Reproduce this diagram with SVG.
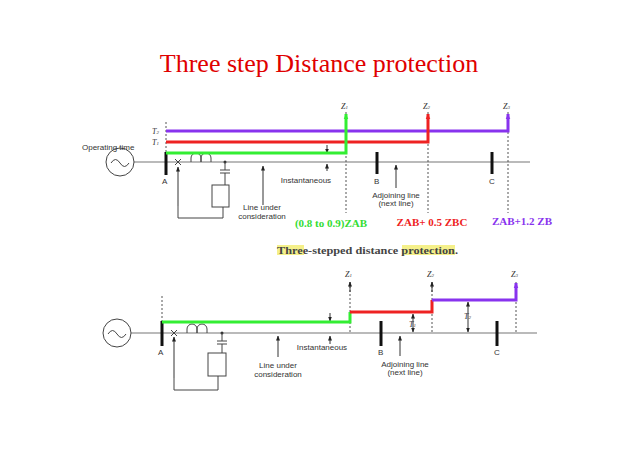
<svg xmlns="http://www.w3.org/2000/svg" width="638" height="451" viewBox="0 0 638 451">
<defs>
<marker id="ah" viewBox="0 0 10 10" refX="9" refY="5" markerWidth="5" markerHeight="5" orient="auto-start-reverse"><path d="M0,1 L10,5 L0,9 z" fill="#222"/></marker>
<marker id="ahg" viewBox="0 0 10 10" refX="9" refY="5" markerUnits="userSpaceOnUse" markerWidth="6" markerHeight="6" orient="auto"><path d="M0,1 L10,5 L0,9 z" fill="#33ee33"/></marker>
<marker id="ahr" viewBox="0 0 10 10" refX="9" refY="5" markerUnits="userSpaceOnUse" markerWidth="6" markerHeight="6" orient="auto"><path d="M0,1 L10,5 L0,9 z" fill="#ee2222"/></marker>
<marker id="ahp" viewBox="0 0 10 10" refX="9" refY="5" markerUnits="userSpaceOnUse" markerWidth="6" markerHeight="6" orient="auto"><path d="M0,1 L10,5 L0,9 z" fill="#8833ee"/></marker>
</defs>
<style>
.ln{stroke:#777;stroke-width:1.2;fill:none}
.w{stroke:#444;stroke-width:1;fill:none}
.bus{stroke:#111;stroke-width:3}
.dot{stroke:#555;stroke-width:1;stroke-dasharray:2,2;fill:none}
.ar{stroke:#333;stroke-width:1;fill:none;marker-end:url(#ah)}
.g{stroke:#33ee33;stroke-width:3;fill:none}
.r{stroke:#ee2222;stroke-width:3;fill:none}
.p{stroke:#8833ee;stroke-width:3;fill:none}
.s{font-family:"Liberation Sans",Arial,sans-serif;font-size:8px;fill:#333}
.z{font-family:"Liberation Serif",serif;font-style:italic;font-size:8px;fill:#333}
.lb{font-family:"Liberation Serif",serif;font-weight:bold;font-size:11px}
</style>
<text x="319" y="72" text-anchor="middle" font-family="Liberation Serif,serif" font-size="26" fill="#e00000">Three step Distance protection</text>

<g id="top">
<line class="ln" x1="134" y1="162" x2="530" y2="162"/>
<g id="gen1"><circle cx="120" cy="162" r="14" class="w" stroke-width="1.3"/><path d="M111,163 q4.5,-7 9,0 t9,0" class="w"/></g>
<text class="s" x="82" y="150">Operating  time</text>
<text class="z" x="152" y="134">T<tspan font-size="5">2</tspan></text>
<text class="z" x="152" y="145">T<tspan font-size="5">1</tspan></text>
<line class="dot" x1="166" y1="122" x2="166" y2="153"/>
<g id="busA1"><line class="bus" x1="166" y1="152" x2="166" y2="175"/><text class="s" x="162" y="184">A</text></g>
<g id="ct1">
<path d="M175,159 l6,6 M181,159 l-6,6" class="w"/>
<path d="M191,162 v-4 a5,5 0 0 1 10,0 v4 M201,162 v-4 a5,5 0 0 1 10,0 v4" class="w" stroke-width="1.3"/>
<circle cx="225" cy="162" r="1.5" fill="#333"/>
<path d="M225,162 v8 M220,170 h10 M220,173 h10 M225,173 v12" class="w"/>
<rect x="212" y="185" width="17" height="22" class="w"/>
<path d="M178,206 V167" class="ar"/><path d="M178,206 V218 H223 V207" class="w"/>
</g>
<path class="ar" d="M263,205 V166"/>
<text class="s" x="262" y="210" text-anchor="middle">Line under</text>
<text class="s" x="262" y="219" text-anchor="middle">consideration</text>
<path class="ar" d="M327,145 V153"/><path class="ar" d="M327,171 V164"/>
<text class="s" x="306" y="183" text-anchor="middle">Instantaneous</text>
<g id="busB1"><line class="bus" x1="377" y1="152" x2="377" y2="174"/><text class="s" x="374" y="184">B</text></g>
<path class="ar" d="M396,188 V165"/>
<text class="s" x="396" y="198" text-anchor="middle">Adjoining line</text>
<text class="s" x="396" y="206" text-anchor="middle">(next line)</text>
<g id="busC1"><line class="bus" x1="492" y1="152" x2="492" y2="174"/><text class="s" x="489" y="184">C</text></g>
<line class="dot" x1="346" y1="112" x2="346" y2="213"/>
<line class="dot" x1="428" y1="112" x2="428" y2="213"/>
<line class="dot" x1="508" y1="112" x2="508" y2="213"/>
<path class="p" d="M166,131 H508 V114" marker-end="url(#ahp)"/>
<path class="r" d="M166,142 H428 V114" marker-end="url(#ahr)"/>
<path class="g" d="M166,153 H346 V114" marker-end="url(#ahg)"/>
<text class="z" x="341" y="109">Z<tspan font-size="5">1</tspan></text>
<text class="z" x="423" y="109">Z<tspan font-size="5">2</tspan></text>
<text class="z" x="503" y="109">Z<tspan font-size="5">3</tspan></text>
<text class="lb" x="331" y="227" text-anchor="middle" fill="#33dd33">(0.8 to 0.9)ZAB</text>
<text class="lb" x="432" y="226" text-anchor="middle" fill="#ee2222">ZAB+ 0.5 ZBC</text>
<text class="lb" x="522" y="225" text-anchor="middle" fill="#8833ee">ZAB+1.2 ZB</text>
<rect x="277" y="245" width="27" height="10" fill="#f5f08a"/>
<rect x="402" y="245" width="53" height="10" fill="#f5f08a"/>
<text x="277" y="254" textLength="181" lengthAdjust="spacingAndGlyphs" font-family="Liberation Serif,serif" font-weight="bold" font-size="9.5" fill="#444">Three-stepped distance protection.</text>
</g>

<g id="bottom">
<line class="ln" x1="131" y1="333" x2="537" y2="333"/>
<g id="gen2"><circle cx="117" cy="333" r="14" class="w" stroke-width="1.3"/><path d="M108,334 q4.5,-7 9,0 t9,0" class="w"/></g>
<line class="dot" x1="162" y1="296" x2="162" y2="322"/>
<g id="busA2"><line class="bus" x1="162" y1="321" x2="162" y2="346"/><text class="s" x="158" y="355">A</text></g>
<g id="ct2">
<path d="M171,330 l6,6 M177,330 l-6,6" class="w"/>
<path d="M187,333 v-4 a5,5 0 0 1 10,0 v4 M197,333 v-4 a5,5 0 0 1 10,0 v4" class="w" stroke-width="1.3"/>
<circle cx="222" cy="333" r="1.5" fill="#333"/>
<path d="M222,333 v8 M217,341 h10 M217,344 h10 M222,344 v9" class="w"/>
<rect x="208" y="353" width="18" height="23" class="w"/>
<path d="M174,378 V337" class="ar"/><path d="M174,378 V390 H218 V376" class="w"/>
</g>
<path class="ar" d="M278,357 V336"/>
<text class="s" x="278" y="368" text-anchor="middle">Line under</text>
<text class="s" x="278" y="377" text-anchor="middle">consideration</text>
<path class="ar" d="M330,313 V321"/><path class="ar" d="M330,344 V336"/>
<text class="s" x="322" y="350" text-anchor="middle">Instantaneous</text>
<g id="busB2"><line class="bus" x1="381" y1="321" x2="381" y2="346"/><text class="s" x="378" y="355">B</text></g>
<path class="ar" d="M400,356 V336"/>
<text class="s" x="405" y="367" text-anchor="middle">Adjoining line</text>
<text class="s" x="405" y="375" text-anchor="middle">(next line)</text>
<g id="busC2"><line class="bus" x1="497" y1="321" x2="497" y2="346"/><text class="s" x="494" y="355">C</text></g>
<line class="dot" x1="350" y1="282" x2="350" y2="333"/>
<line class="dot" x1="432" y1="282" x2="432" y2="333"/>
<line class="dot" x1="516" y1="282" x2="516" y2="333"/>
<path d="M350,292 V282" class="ar"/><path d="M432,292 V282" class="ar"/>
<path class="g" d="M162,322 H350 V312"/>
<path class="r" d="M350,312 H432 V300"/>
<path class="p" d="M432,300 H516 V283" marker-end="url(#ahp)"/>
<path class="ar" d="M413,323 V314" /><path class="ar" d="M413,323 V332"/>
<text class="z" x="409" y="327">T<tspan font-size="5">1</tspan></text>
<path class="ar" d="M468,316 V302"/><path class="ar" d="M468,316 V332"/>
<text class="z" x="464" y="319">T<tspan font-size="5">2</tspan></text>
<text class="z" x="345" y="277">Z<tspan font-size="5">1</tspan></text>
<text class="z" x="427" y="277">Z<tspan font-size="5">2</tspan></text>
<text class="z" x="511" y="277">Z<tspan font-size="5">3</tspan></text>
</g>
</svg>
